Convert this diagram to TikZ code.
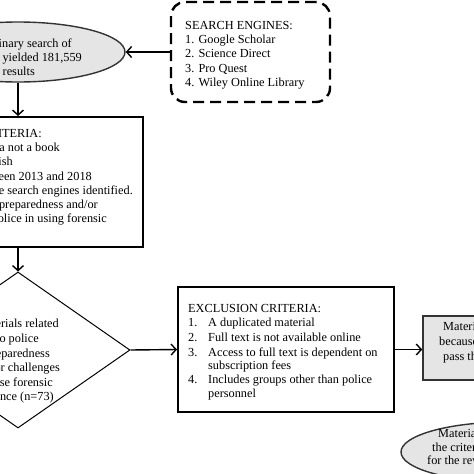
\documentclass[tikz,border=0pt]{standalone}
\usepackage{fontspec}
\setmainfont{Liberation Serif}
\usetikzlibrary{shapes.geometric,arrows.meta}
\begin{document}
\begin{tikzpicture}[x=1pt,y=-1pt,
  conn/.style={line width=1.4pt,-{Straight Barb[length=5pt,width=11pt,line width=1.4pt]}},
  txt/.style={inner sep=0pt,text=black,font=\fontsize{12.3}{14}\selectfont},
  grayell/.style={ellipse,draw=black!80,line width=1.4pt,fill=black!10,minimum width=214pt,minimum height=60pt,inner sep=0pt},
  sebox/.style={draw,line width=2.4pt,dash pattern=on 11pt off 6pt,rounded corners=14pt,minimum width=159pt,minimum height=100pt,inner sep=0pt},
  critbox/.style={draw,line width=2pt,inner sep=0pt},
  decision/.style={diamond,draw,line width=1pt,inner sep=0pt,minimum width=224pt,minimum height=156pt},
  outbox/.style={draw=black!80,line width=1.6pt,fill=black!10,inner sep=0pt,minimum width=130pt,minimum height=64pt}
]
\useasboundingbox (0,0) rectangle (474,474);
\clip (0,0) rectangle (474,474);
\fill[white] (0,0) rectangle (474,474);

% shapes
\node[grayell] (ell) at (18,52) {};
\node[sebox] (se) at (250.5,52) {};
\node[critbox,minimum width=250pt,minimum height=130pt] (incl) at (18,182) {};
\node[decision] (dia) at (18,350) {};
\node[critbox,minimum width=216pt,minimum height=125pt] (excl) at (286,349.5) {};
\node[outbox] (gbox) at (488,348) {};
\node[grayell] (ell2) at (508,452) {};

% connectors
\draw[conn] (se.west) -- (ell.east);
\draw[conn] (ell.south) -- (incl.north);
\draw[conn] (incl.south) -- (dia.north);
\draw[conn] (dia.east) -- (excl.west);
\draw[conn] (excl.east) -- (excl.east -| gbox.west);

% search engines text
\foreach \t [count=\i] in {SEARCH ENGINES:,1. Google Scholar,2. Science Direct,3. Pro Quest,4. Wiley Online Library}
  \node[txt,anchor=base west] (se\i) at (185,{29+14.4*(\i-1)}) {\t};

% preliminary search text (clipped)
\node[txt,anchor=base east] (e1) at (72,47) {Preliminary search of};
\node[txt,anchor=base east] (e2) at (82,61) {literature yielded 181,559};
\node[txt,anchor=base east] (e3) at (35,75) {results};

% inclusion criteria text (clipped)
\node[txt,anchor=base east] (i1) at (42,137) {INCLUSION CRITERIA:};
\node[txt,anchor=base east] (i2) at (60,151) {1.\ \ Data not a book};
\node[txt,anchor=base east] (i3) at (13,165) {2.\ \ English};
\node[txt,anchor=base east] (i4) at (92,180) {3.\ \ Published between 2013 and 2018};
\node[txt,anchor=base east] (i5) at (133,194) {4.\ \ Available in the search engines identified.};
\node[txt,anchor=base east] (i6) at (98,208) {5.\ \ Focus on preparedness and/or};
\node[txt,anchor=base east] (i7) at (107,222) {challenges of police in using forensic};

% decision text (clipped)
\node[txt,anchor=base east] (d1) at (59,327) {Materials related};
\node[txt,anchor=base east] (d2) at (39,342) {to police};
\node[txt,anchor=base east] (d3) at (50,357) {preparedness};
\node[txt,anchor=base east] (d4) at (60,371) {and/or challenges};
\node[txt,anchor=base east] (d5) at (53,386) {to use forensic};
\node[txt,anchor=base east] (d6) at (54,400) {science (n=73)};

% exclusion criteria text
\node[txt,anchor=base west] (x0) at (188,312) {EXCLUSION CRITERIA:};
\foreach \n/\t/\y in {1./A duplicated material/326, 2./Full text is not available online/341, 3./Access to full text is dependent on/356, 4./Includes groups other than police/383}
  {\node[txt,anchor=base west] at (188,\y) {\n};
   \node[txt,anchor=base west] at (208,\y) {\t};}
\node[txt,anchor=base west] (x3b) at (208,369) {subscription fees};
\node[txt,anchor=base west] (x4b) at (208,397) {personnel};

% excluded box text (clipped)
\node[txt,anchor=base west] (g1) at (443,330) {Materials excluded};
\node[txt,anchor=base west] (g2) at (439,345) {because they did not};
\node[txt,anchor=base west] (g3) at (443,360) {pass the criteria};

% included ellipse text (clipped)
\node[txt,anchor=base west] (f1) at (438,437) {Materials that met};
\node[txt,anchor=base west] (f2) at (432,451) {the criteria included};
\node[txt,anchor=base west] (f3) at (427,464) {for the review};
\end{tikzpicture}
\end{document}
